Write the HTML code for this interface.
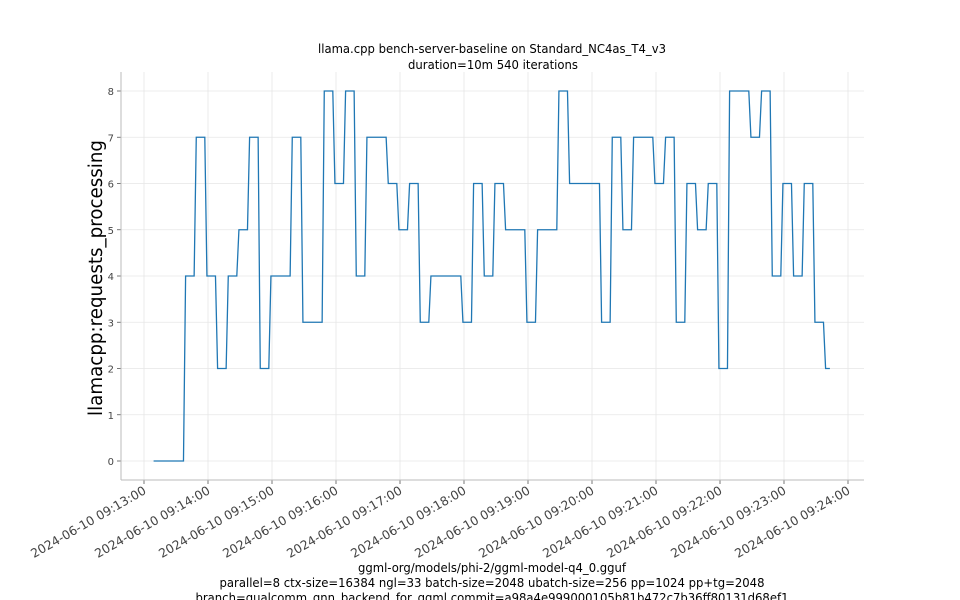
<!DOCTYPE html>
<html><head><meta charset="utf-8"><style>
html,body{margin:0;padding:0;background:#fff;}
svg{display:block;font-family:"DejaVu Sans","Liberation Sans",sans-serif;}
</style></head><body>
<svg id="chart" width="960" height="600" viewBox="0 0 960 600" xmlns="http://www.w3.org/2000/svg">
<rect width="960" height="600" fill="#fff"/>
<text x="492" y="53" text-anchor="middle" font-size="12" textLength="348" lengthAdjust="spacingAndGlyphs">llama.cpp bench-server-baseline on Standard_NC4as_T4_v3</text>
<text x="493" y="69" text-anchor="middle" font-size="12" textLength="170" lengthAdjust="spacingAndGlyphs">duration=10m 540 iterations</text>
<g id="grid"></g>
<g id="axes"></g>
<path id="series" fill="none" stroke="#1f77b4" stroke-width="1.3"/>
<text transform="translate(102,278) rotate(-90)" text-anchor="middle" font-size="18.5" textLength="276" lengthAdjust="spacingAndGlyphs">llamacpp:requests_processing</text>
<text x="492" y="572" text-anchor="middle" font-size="12" textLength="268" lengthAdjust="spacingAndGlyphs">ggml-org/models/phi-2/ggml-model-q4_0.gguf</text>
<text x="492" y="587" text-anchor="middle" font-size="12" textLength="545" lengthAdjust="spacingAndGlyphs">parallel=8 ctx-size=16384 ngl=33 batch-size=2048 ubatch-size=256 pp=1024 pp+tg=2048</text>
<text x="492" y="602" text-anchor="middle" font-size="12" textLength="593" lengthAdjust="spacingAndGlyphs">branch=qualcomm_qnn_backend_for_ggml commit=a98a4e999000105b81b472c7b36ff80131d68ef1</text>
</svg>
<script>
// data: seconds after 09:13:00
const segValues = [0,4,7,4,2,4,5,7,2,4,7,3,8,6,8,4,7,6,5,6,3,4,3,6,4,6,5,3,5,8,6,3,7,5,7,6,7,3,6,5,6,2,8,7,8,4,6,4,6,3,2];
const segStart = [9,39,49,59,69,79,89,99,109,119,139,149,169,179,189,199,209,229,239,249,259,269,299,309,319,329,339,359,369,389,399,429,439,449,459,479,489,499,509,519,529,539,549,569,579,589,599,609,619,629,639];
const segEnd = [37,47,57,67,77,87,97,107,117,137,147,167,177,187,197,207,227,237,247,257,267,297,307,317,327,337,357,367,387,397,427,437,447,457,477,487,497,507,517,527,537,547,567,577,587,597,607,617,627,637,643];
const yTicks = [0,1,2,3,4,5,6,7,8];
const xTickMinutes = [0,1,2,3,4,5,6,7,8,9,10,11];
const xTickLabels = ["2024-06-10 09:13:00","2024-06-10 09:14:00","2024-06-10 09:15:00","2024-06-10 09:16:00","2024-06-10 09:17:00","2024-06-10 09:18:00","2024-06-10 09:19:00","2024-06-10 09:20:00","2024-06-10 09:21:00","2024-06-10 09:22:00","2024-06-10 09:23:00","2024-06-10 09:24:00"];

const NS = "http://www.w3.org/2000/svg";
const L = 121, R = 864, T = 72, B = 480;
function xs(sec){ return 144 + sec * 64 / 60; }
function ys(v){ return 461 - v * 46.25; }
function mk(tag, attrs, parent){
  const e = document.createElementNS(NS, tag);
  for (const k in attrs) e.setAttribute(k, attrs[k]);
  parent.appendChild(e);
  return e;
}
const grid = document.getElementById('grid');
const axes = document.getElementById('axes');
yTicks.forEach(v => {
  const y = ys(v);
  const g = mk('line', {x1:L, x2:R, y1:y, y2:y, stroke:'#e6e6e6', 'stroke-width':0.8}, grid);
  
  
  const t = mk('line', {x1:L-4, x2:L, y1:y, y2:y, stroke:'#555', 'stroke-width':0.8}, axes);
  
  
  const lb = mk('text', {x:L-7, y:y+4, 'text-anchor':'end', 'font-size':10, fill:'#444'}, axes);
  lb.textContent = v;
  
  
});
xTickMinutes.forEach((m, i) => {
  const x = xs(m * 60);
  const g = mk('line', {x1:x, x2:x, y1:T, y2:B, stroke:'#e6e6e6', 'stroke-width':0.8}, grid);
  
  
  const t = mk('line', {x1:x, x2:x, y1:B, y2:B+4, stroke:'#555', 'stroke-width':0.8}, axes);
  
  
  const lb = mk('text', {x:0, y:0, 'text-anchor':'end', 'font-size':12.3, fill:'#444', transform:'translate(' + (x+3) + ',' + (B+13) + ') rotate(-30)'}, axes);
  lb.textContent = xTickLabels[i];
  
  
});
const sl = mk('line', {x1:L, x2:L, y1:T, y2:B, stroke:'#bbb', 'stroke-width':1}, axes);


const sb = mk('line', {x1:L, x2:R, y1:B, y2:B, stroke:'#bbb', 'stroke-width':1}, axes);



let d = '';
segValues.forEach((v, i) => {
  d += (i === 0 ? 'M' : 'L') + xs(segStart[i]).toFixed(2) + ',' + ys(v).toFixed(2);
  d += 'L' + xs(segEnd[i]).toFixed(2) + ',' + ys(v).toFixed(2);
});
document.getElementById('series').setAttribute('d', d);
</script>
</body></html>
